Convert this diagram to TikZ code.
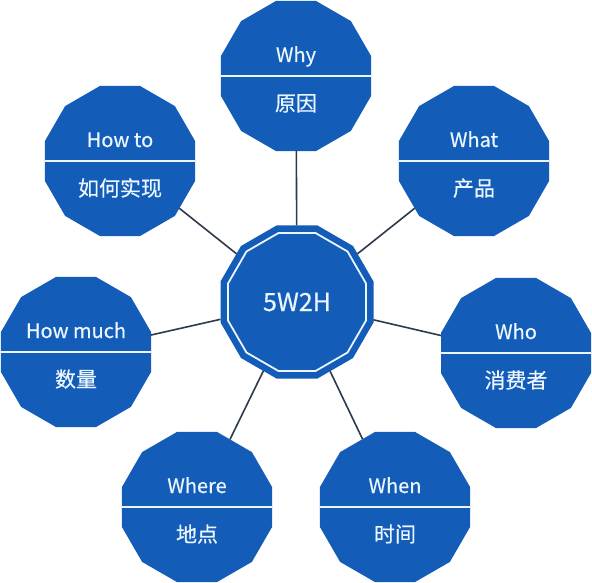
\documentclass[tikz,border=0pt]{standalone}
\usepackage{fontspec}
\setmainfont{Noto Sans CJK SC}
\newfontfamily\lblfont{Noto Sans CJK SC}[FakeBold=0.4]
\usetikzlibrary{shapes.geometric}
\definecolor{nodeblue}{RGB}{19,92,184}
\definecolor{txt}{RGB}{235,246,255}
\definecolor{linec}{RGB}{45,58,75}
\tikzset{
  petal/.style={regular polygon, regular polygon sides=12, minimum size=155.3pt, inner sep=0pt, outer sep=0pt, fill=nodeblue, draw=none},
  hub/.style={regular polygon, regular polygon sides=12, minimum size=158.4pt, inner sep=0pt, outer sep=0pt, fill=nodeblue, draw=none},
  hubin/.style={regular polygon, regular polygon sides=12, minimum size=142.9pt, inner sep=0pt, outer sep=0pt, draw=txt, line width=1.8pt},
  lat/.style={text=txt, font=\lblfont\fontsize{20}{24}\selectfont, anchor=base, inner sep=0pt},
  cjk/.style={text=txt, font=\lblfont\fontsize{21}{24}\selectfont, anchor=base, inner sep=0pt},
  hubtext/.style={text=txt, font=\lblfont\fontsize{25}{28}\selectfont, anchor=base, inner sep=0pt},
  conn/.style={draw=linec, line width=1.6pt},
  divider/.style={draw=txt, line width=1.8pt}
}
\begin{document}
\begin{tikzpicture}[x=1pt,y=-1pt]
\useasboundingbox (0,0) rectangle (592,583);
\fill[white] (0,0) rectangle (592,583);
% hub
\node[hub] (c) at (297,302) {};
\node[hubin] (ci) at (297,302) {};
\node[hubtext] (ct) at (297,311) {5W2H};
% petals
\foreach \n/\x/\y/\en/\zh in {why/296/76/Why/原因, what/474/161/What/产品, who/516/353/Who/消费者, when/395/507/When/时间, where/197/507/Where/地点, howmuch/76/352/How much/数量, howto/120/161/How to/如何实现}{
  \node[petal] (\n) at (\x,\y) {};
  \draw[divider] (\n.west) -- (\n.east);
  \node[lat] (\n-en) at (\x,\y-14) {\en};
  \node[cjk] (\n-zh) at (\x,\y+35) {\zh};
  \draw[conn] (c) -- (\n);
}
\end{tikzpicture}
\end{document}
